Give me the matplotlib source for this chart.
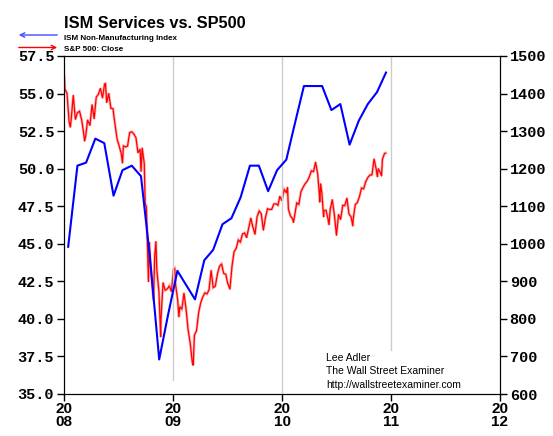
import pandas as pd
import matplotlib
matplotlib.use('Agg')
import matplotlib.pyplot as plt
from matplotlib.patches import FancyArrowPatch

# ISM Non-Manufacturing Index, monthly Jan 2008 - Dec 2010
ism_values = [44.8, 50.2, 50.4, 52.0, 51.7, 48.2, 49.9, 50.2, 49.5, 44.1, 37.3, 40.3,
              43.2, 42.2, 41.3, 43.9, 44.6, 46.3, 46.7, 48.1, 50.2, 50.2, 48.5, 49.9,
              50.6, 53.2, 55.5, 55.5, 55.5, 53.9, 54.3, 51.6, 53.2, 54.3, 55.1, 56.4]
ism_dates = pd.date_range('2008-01-01', periods=len(ism_values), freq='MS') + pd.Timedelta(days=14)

# S&P 500 close (weekly closes plus notable daily extremes)
spx_dates = [
    '2008-01-02', '2008-01-04', '2008-01-11', '2008-01-18', '2008-01-22', '2008-01-25',
    '2008-02-01', '2008-02-08', '2008-02-15', '2008-02-22', '2008-02-29', '2008-03-07',
    '2008-03-10', '2008-03-14', '2008-03-20', '2008-03-28', '2008-04-04', '2008-04-11',
    '2008-04-18', '2008-04-25', '2008-05-02', '2008-05-09', '2008-05-16', '2008-05-19',
    '2008-05-23', '2008-05-30', '2008-06-06', '2008-06-13', '2008-06-20', '2008-06-27',
    '2008-07-03', '2008-07-11', '2008-07-15', '2008-07-18', '2008-07-25', '2008-08-01',
    '2008-08-08', '2008-08-15', '2008-08-22', '2008-08-29', '2008-09-05', '2008-09-12',
    '2008-09-15', '2008-09-19', '2008-09-26', '2008-09-29', '2008-10-03', '2008-10-10',
    '2008-10-13', '2008-10-17', '2008-10-24', '2008-10-27', '2008-10-31', '2008-11-04',
    '2008-11-07', '2008-11-14', '2008-11-20', '2008-11-21', '2008-11-28', '2008-12-05',
    '2008-12-12', '2008-12-19', '2008-12-26',
    '2009-01-02', '2009-01-06', '2009-01-09', '2009-01-16', '2009-01-20', '2009-01-23',
    '2009-01-30', '2009-02-06', '2009-02-13', '2009-02-20', '2009-02-27', '2009-03-06',
    '2009-03-09', '2009-03-13', '2009-03-20', '2009-03-27', '2009-04-03', '2009-04-09',
    '2009-04-17', '2009-04-24', '2009-05-01', '2009-05-08', '2009-05-15', '2009-05-22',
    '2009-05-29', '2009-06-05', '2009-06-12', '2009-06-19', '2009-06-26', '2009-07-02',
    '2009-07-10', '2009-07-17', '2009-07-24', '2009-07-31', '2009-08-07', '2009-08-14',
    '2009-08-21', '2009-08-28', '2009-09-04', '2009-09-11', '2009-09-18', '2009-09-25',
    '2009-10-02', '2009-10-09', '2009-10-16', '2009-10-23', '2009-10-30', '2009-11-06',
    '2009-11-13', '2009-11-20', '2009-11-27', '2009-12-04', '2009-12-11', '2009-12-18',
    '2009-12-24', '2009-12-31',
    '2010-01-08', '2010-01-15', '2010-01-19', '2010-01-22', '2010-01-29', '2010-02-05',
    '2010-02-08', '2010-02-12', '2010-02-19', '2010-02-26', '2010-03-05', '2010-03-12',
    '2010-03-19', '2010-03-26', '2010-04-02', '2010-04-09', '2010-04-16', '2010-04-23',
    '2010-04-30', '2010-05-06', '2010-05-07', '2010-05-10', '2010-05-14', '2010-05-20',
    '2010-05-21', '2010-05-28', '2010-06-04', '2010-06-07', '2010-06-11', '2010-06-18',
    '2010-06-25', '2010-07-02', '2010-07-09', '2010-07-16', '2010-07-23', '2010-07-30',
    '2010-08-06', '2010-08-13', '2010-08-20', '2010-08-26', '2010-08-27', '2010-09-03',
    '2010-09-10', '2010-09-17', '2010-09-24', '2010-10-01', '2010-10-08', '2010-10-15',
    '2010-10-22', '2010-10-29', '2010-11-05', '2010-11-12', '2010-11-16', '2010-11-19',
    '2010-11-26', '2010-11-30', '2010-12-03', '2010-12-10', '2010-12-14',
]
spx_close = [
    1447.2, 1411.6, 1401.0, 1325.2, 1310.5, 1330.6,
    1395.4, 1331.3, 1349.0, 1353.1, 1330.6, 1293.4,
    1273.4, 1288.1, 1329.5, 1315.2, 1370.4, 1332.8,
    1390.3, 1397.8, 1413.9, 1388.3, 1425.4, 1426.6,
    1375.9, 1400.4, 1360.7, 1360.0, 1317.9, 1278.4,
    1262.9, 1239.5, 1214.9, 1260.7, 1257.8, 1260.3,
    1296.3, 1298.2, 1292.2, 1282.8, 1242.3, 1251.7,
    1192.7, 1255.1, 1213.3, 1106.4, 1099.2, 899.2,
    1003.4, 940.6, 876.8, 848.9, 968.8, 1005.8,
    931.0, 873.3, 752.4, 800.0, 896.2, 876.1,
    879.7, 887.9, 872.8,
    931.8, 934.7, 890.4, 850.1, 805.2, 832.0,
    825.9, 868.6, 826.8, 770.1, 735.1, 683.4,
    676.5, 756.6, 768.5, 815.9, 842.5, 856.6,
    869.6, 866.2, 877.5, 929.2, 882.9, 887.0,
    919.1, 940.1, 946.2, 921.2, 918.9, 896.4,
    879.1, 940.4, 979.3, 987.5, 1010.5, 1004.1,
    1026.1, 1028.9, 1016.4, 1042.7, 1068.3, 1044.4,
    1025.2, 1071.5, 1087.7, 1079.6, 1036.2, 1069.3,
    1093.5, 1091.4, 1091.5, 1106.0, 1106.4, 1102.5,
    1126.5, 1115.1,
    1145.0, 1136.0, 1150.2, 1091.8, 1073.9, 1066.2,
    1056.7, 1075.5, 1109.2, 1104.5, 1138.7, 1150.0,
    1159.9, 1166.6, 1178.1, 1194.4, 1192.1, 1217.3,
    1186.7, 1128.1, 1110.9, 1159.7, 1135.7, 1071.6,
    1087.7, 1089.4, 1064.9, 1050.5, 1091.6, 1117.5,
    1076.8, 1022.6, 1078.0, 1064.9, 1102.7, 1101.6,
    1121.6, 1079.3, 1071.7, 1047.2, 1064.6, 1104.5,
    1109.6, 1125.6, 1148.7, 1146.2, 1165.2, 1176.2,
    1183.1, 1183.3, 1225.9, 1199.2, 1178.3, 1199.7,
    1189.4, 1180.6, 1224.7, 1240.4, 1241.6,
]
spx_dates = pd.to_datetime(spx_dates)

year_ticks = pd.to_datetime(['2008-01-01', '2009-01-01', '2010-01-01', '2011-01-01', '2012-01-01'])
year_labels = ['20\n08', '20\n09', '20\n10', '20\n11', '20\n12']

mono = ['Liberation Mono', 'DejaVu Sans Mono']
sans = ['Liberation Sans', 'DejaVu Sans']

fig = plt.figure(figsize=(5.53, 4.36), dpi=100)
ax = fig.add_axes([64/553, 1-394/436, 436/553, 338/436])
ax2 = ax.twinx()

# vertical year gridlines
ax.axvline(year_ticks[1], ymin=0.04, color='#cccccc', lw=1, zorder=0)
ax.axvline(year_ticks[2], color='#cccccc', lw=1, zorder=0)
ax.axvline(year_ticks[3], ymin=0.13, color='#cccccc', lw=1, zorder=0)

# red line with a soft pink edge
ax2.plot(spx_dates, spx_close, color='#ffb4b4', lw=2.0, solid_joinstyle='miter')
ax2.plot(spx_dates, spx_close, color='red', lw=0.9)
ax.plot(ism_dates, ism_values, color='#0000ff', lw=1.5, zorder=5)
ax.set_zorder(ax2.get_zorder() + 1)
ax.patch.set_visible(False)

ax.set_xlim(year_ticks[0], year_ticks[-1])
ax.set_ylim(35, 57.5)
ax2.set_ylim(600, 1500)
ax.set_yticks([35 + 2.5 * i for i in range(10)])
ax.set_yticklabels(['%.1f' % (35 + 2.5 * i) for i in range(10)])
ax2.set_yticks(range(600, 1501, 100))
ax.set_xticks(year_ticks)
ax.set_xticklabels(year_labels, family=sans, weight='bold', fontsize=11, linespacing=0.85)

for lab in ax.get_yticklabels() + ax2.get_yticklabels():
    lab.set_family(mono)
    lab.set_weight('bold')
    lab.set_fontsize(11)

ax.tick_params(axis='y', length=5, width=1, pad=2)
ax2.tick_params(axis='y', length=5, width=1, pad=2)
ax.tick_params(axis='x', length=5, width=1, pad=1)

# title and legend text
fig.text(64/553, 1-23/436, 'ISM Services vs. SP500', family=sans, weight='bold',
         fontsize=11.8, va='center', ha='left')
fig.text(64/553, 1-38.5/436, 'ISM Non-Manufacturing Index', family=sans, weight='bold',
         fontsize=5.8, va='center', ha='left')
fig.text(64/553, 1-49.5/436, 'S&P 500: Close', family=sans, weight='bold',
         fontsize=5.8, va='center', ha='left')
fig.add_artist(FancyArrowPatch((60/553, 1-35/436), (16/553, 1-35/436), transform=fig.transFigure,
                               arrowstyle='->', mutation_scale=8, color='#4a4aff', lw=1))
fig.add_artist(FancyArrowPatch((16/553, 1-47.5/436), (60/553, 1-47.5/436), transform=fig.transFigure,
                               arrowstyle='->', mutation_scale=8, color='red', lw=1))

ax.text(0.602, 0.121, 'Lee Adler\nThe Wall Street Examiner\nhttp://wallstreetexaminer.com',
        transform=ax.transAxes, family=sans, fontsize=7.5,
        va='top', ha='left', linespacing=1.4, zorder=10)

fig.savefig('out.png', dpi=100)
